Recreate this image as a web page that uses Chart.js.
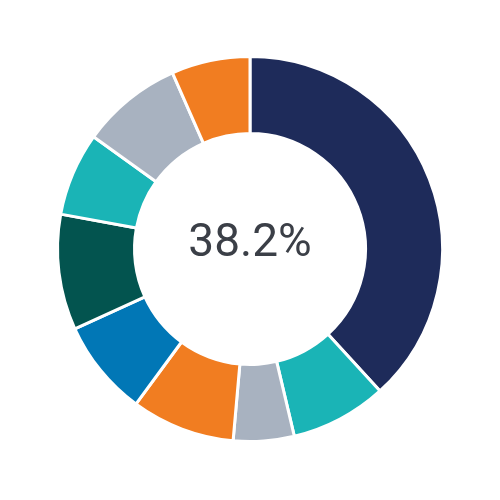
<!DOCTYPE html>
<html>
<head>
<meta charset="utf-8">
<script src="https://cdn.jsdelivr.net/npm/chart.js@4"></script>
<style>
html,body{margin:0;padding:0;background:#fff;}
#wrap{position:relative;width:500px;height:500px;}
#c{position:absolute;left:0;top:0;}
</style>
</head>
<body>
<div id="wrap"><canvas id="c" width="500" height="500"></canvas></div>
<script>
const categories = ["A","B","C","D","E","F","G","H","I"];
const values = [38.2, 8.1, 5.1, 8.7, 8.1, 9.7, 7.0, 8.5, 6.6];
const colors = ["#1e2b5a","#1ab4b6","#a8b2c0","#f17d21","#0177b6","#03544f","#1ab4b6","#a8b2c0","#f17d21"];
const centerLabel = "38.2%";

const centerText = {
  id: 'centerText',
  afterDraw(chart) {
    const meta = chart.getDatasetMeta(0);
    const arc = meta.data[0];
    const ctx = chart.ctx;
    ctx.save();
    ctx.font = '400 46px Roboto';
    ctx.fillStyle = '#3b3f47';
    ctx.textAlign = 'center';
    ctx.textBaseline = 'middle';
    ctx.fillText(centerLabel, arc.x, arc.y - 5);
    ctx.restore();
  }
};

new Chart(document.getElementById('c'), {
  type: 'doughnut',
  data: {
    labels: categories,
    datasets: [{
      data: values,
      backgroundColor: colors,
      borderColor: '#ffffff',
      borderWidth: 3
    }]
  },
  options: {
    responsive: false,
    animation: false,
    cutout: '60%',
    layout: { padding: { top: 55, bottom: 57, left: 55, right: 55 } },
    plugins: { legend: { display: false }, tooltip: { enabled: false } }
  },
  plugins: [centerText]
});
</script>
</body>
</html>
